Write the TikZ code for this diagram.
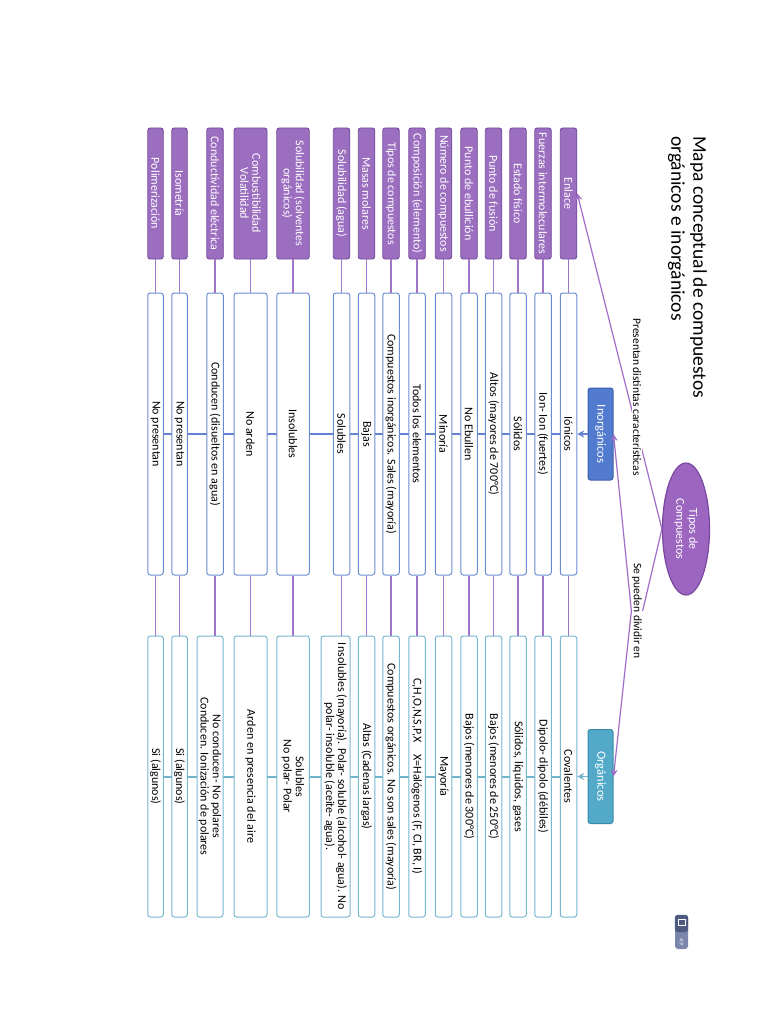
\documentclass[tikz,border=0pt]{standalone}
\usepackage{fontspec}
\setmainfont{Carlito}
\usetikzlibrary{shapes.geometric,arrows.meta,backgrounds,calc}
\definecolor{labfill}{RGB}{155,110,192}
\definecolor{labdraw}{RGB}{118,74,158}
\definecolor{inbdraw}{RGB}{108,140,210}
\definecolor{obdraw}{RGB}{118,184,206}
\definecolor{connc}{RGB}{160,118,200}
\definecolor{inbus}{RGB}{100,130,212}
\definecolor{obus}{RGB}{112,180,204}
\definecolor{inorgfill}{RGB}{82,122,206}
\definecolor{inorgdraw}{RGB}{60,96,170}
\definecolor{orgfill}{RGB}{82,170,200}
\definecolor{orgdraw}{RGB}{56,140,170}
\definecolor{ellfill}{RGB}{156,102,192}
\definecolor{elldraw}{RGB}{122,72,160}
\definecolor{linkc}{RGB}{160,110,200}
\definecolor{pgdark}{RGB}{78,90,128}
\definecolor{pglight}{RGB}{124,134,170}
\newcommand\boxfont{\fontsize{12}{12.2}\selectfont}
\begin{document}
\begin{tikzpicture}[x=1pt,y=-1pt,
  lab/.style={rotate=-90, rectangle, rounded corners=2.5pt, draw=labdraw, fill=labfill,
    line width=0.9pt, text=white, align=center, inner sep=0.5pt,
    minimum width=131pt, minimum height=#1, font=\boxfont},
  inb/.style={rotate=-90, rectangle, rounded corners=2.5pt, draw=inbdraw, fill=white,
    line width=1pt, align=center, inner sep=0.5pt,
    minimum width=282pt, minimum height=#1, font=\boxfont},
  ob/.style={rotate=-90, rectangle, rounded corners=2.5pt, draw=obdraw, fill=white,
    line width=1pt, align=center, inner sep=0.5pt,
    minimum width=281pt, minimum height=#1, font=\boxfont},
  conn/.style={draw=connc, line width=1.8pt},
  link/.style={draw=linkc, line width=1.2pt},
  arr/.style={-{Stealth[length=7pt,width=7pt]}},
  linklabel/.style={rotate=-90, fill=white, inner sep=0.5pt, font=\fontsize{11.5}{12}\selectfont}
]
\useasboundingbox (0,0) rectangle (768,1024);

% title
\node[rotate=-90, anchor=north west, align=left, inner sep=0pt,
  font=\fontsize{19.5}{22}\selectfont] (title) at (707,136)
  {Mapa conceptual de compuestos\\orgánicos e inorgánicos};

% central concept
\node[ellipse, rotate=-90, fill=ellfill, draw=elldraw, line width=1.2pt,
  minimum width=132pt, minimum height=47pt, inner sep=0pt, text=white, align=center,
  font=\fontsize{12}{13}\selectfont] (tipos) at (686,529) {Tipos de\\Compuestos};

\node[rotate=-90, rectangle, rounded corners=2.5pt, fill=inorgfill, draw=inorgdraw,
  line width=1pt, minimum width=92pt, minimum height=25pt, text=white,
  font=\fontsize{12.5}{13}\selectfont] (inorg) at (600.5,434) {Inorgánicos};
\node[rotate=-90, rectangle, rounded corners=2.5pt, fill=orgfill, draw=orgdraw,
  line width=1pt, minimum width=94pt, minimum height=25pt, text=white,
  font=\fontsize{12.5}{13}\selectfont] (org) at (600.5,776.5) {Orgánicos};

% labels column
\node[lab=16.5pt] (L1) at (568.5,193.5) {Enlace};
\node[lab=16.5pt] (L2) at (543,193.5) {Fuerzas intermoleculares};
\node[lab=16.5pt] (L3) at (518,193.5) {Estado físico};
\node[lab=16.5pt] (L4) at (493.5,193.5) {Punto de fusión};
\node[lab=16.5pt] (L5) at (469,193.5) {Punto de ebullición};
\node[lab=16.5pt] (L6) at (443.5,193.5) {Número de compuestos};
\node[lab=16.5pt] (L7) at (417,193.5) {Composición (elemento)};
\node[lab=16.5pt] (L8) at (391,193.5) {Tipos de compuestos};
\node[lab=16.5pt] (L9) at (366.5,193.5) {Masas molares};
\node[lab=16.5pt] (L10) at (341.5,193.5) {Solubilidad (agua)};
\node[lab=32.5pt] (L11) at (293,193.5) {Solubilidad (solventes\\orgánicos)};
\node[lab=33pt] (L12) at (250.5,193.5) {Combustibilidad\\Volatilidad};
\node[lab=16.5pt] (L13) at (215,193.5) {Conductividad eléctrica};
\node[lab=15.5pt] (L14) at (179.5,193.5) {Isometría};
\node[lab=15.5pt] (L15) at (155.5,193.5) {Polimerización};

% inorganic column
\node[inb=16.5pt] (I1) at (568.5,434) {Iónicos};
\node[inb=16.5pt] (I2) at (543,434) {Ion- Ion (fuertes)};
\node[inb=16.5pt] (I3) at (518,434) {Sólidos};
\node[inb=16.5pt] (I4) at (493.5,434) {Altos (mayores de 700°C)};
\node[inb=16.5pt] (I5) at (469,434) {No Ebullen};
\node[inb=16.5pt] (I6) at (443.5,434) {Minoría};
\node[inb=16.5pt] (I7) at (417,434) {Todos los elementos};
\node[inb=16.5pt] (I8) at (391,434) {Compuestos inorgánicos. Sales (mayoría)};
\node[inb=16.5pt] (I9) at (366.5,434) {Bajas};
\node[inb=16.5pt] (I10) at (341.5,434) {Solubles};
\node[inb=32.5pt] (I11) at (293,434) {Insolubles};
\node[inb=33pt] (I12) at (250.5,434) {No arden};
\node[inb=16.5pt] (I13) at (215,434) {Conducen (disueltos en agua)};
\node[inb=15.5pt] (I14) at (179.5,434) {No presentan};
\node[inb=15.5pt] (I15) at (155.5,434) {No presentan};

% organic column
\node[ob=16.5pt] (O1) at (568.5,776.5) {Covalentes};
\node[ob=16.5pt] (O2) at (543,776.5) {Dipolo- dipolo (débiles)};
\node[ob=16.5pt] (O3) at (518,776.5) {Sólidos, líquidos, gases};
\node[ob=16.5pt] (O4) at (493.5,776.5) {Bajos (menores de 250°C)};
\node[ob=16.5pt] (O5) at (469,776.5) {Bajos (menores de 300°C)};
\node[ob=16.5pt] (O6) at (443.5,776.5) {Mayoría};
\node[ob=16.5pt] (O7) at (417,776.5) {C,H,O,N,S,P,X\quad X=Halógenos (F, Cl, BR, I)};
\node[ob=16.5pt] (O8) at (391,776.5) {Compuestos orgánicos. No son sales (mayoría)};
\node[ob=16.5pt] (O9) at (366.5,776.5) {Altas (Cadenas largas)};
\node[ob=29pt] (O10) at (335.5,776.5) {Insolubles (mayoría). Polar- soluble (alcohol- agua). No\\polar- insoluble (aceite- agua).};
\node[ob=32.5pt] (O11) at (293,776.5) {Solubles\\No polar- Polar};
\node[ob=33pt] (O12) at (250.5,776.5) {Arden en presencia del aire};
\node[ob=26pt] (O13) at (210,776.5) {No conducen- No polares\\Conducen. Ionización de polares};
\node[ob=15.5pt] (O14) at (179.5,776.5) {Si (algunos)};
\node[ob=15.5pt] (O15) at (155.5,776.5) {Si (algunos)};

% white page and buses behind the boxes
\begin{scope}[on background layer]
  \fill[white] (0,0) rectangle (768,1024);
  \draw[draw=inbus, line width=2pt] (I1) -- (I15);
  \draw[draw=obus, line width=2pt] (O1) -- (O15);
\end{scope}

% purple connectors between columns
\foreach \i in {1,...,15}{
  \draw[conn] (L\i.east) -- (L\i.east |- I\i.west);
  \draw[conn] (I\i.east) -- (I\i.east |- O\i.west);
}

% arrows to first boxes
\draw[draw=inbus, line width=1.8pt, arr] (inorg) -- (I1);
\draw[draw=obus, line width=1.8pt, arr] (org) -- (O1);

% linking phrases
\draw[link, arr] (tipos.south) -- (L1.north);
\node[linklabel] (pres) at (637,397) {Presentan distintas características};
\node[linklabel] (div) at (637,611) {Se pueden dividir en};
\draw[link] (tipos.south) -- (div.north);
\draw[link, arr] (div.south) -- (inorg.north);
\draw[link, arr] (div.south) -- (org.north);

% page badge
\node[rotate=-90, rectangle, rounded corners=3pt, fill=pglight, minimum width=34pt,
  minimum height=13pt, inner sep=0pt] (pg) at (681.5,932) {};
\fill[pgdark, rounded corners=3pt] (pg.north west) rectangle ($(pg.south west)!0.5!(pg.south east)$);
\node[rotate=-90, text=white, inner sep=0pt, font=\fontsize{6}{6}\selectfont] (pgnum) at (681.5,942) {49};
\draw[white, line width=0.6pt] (678,919) rectangle (685,925);
\end{tikzpicture}
\end{document}
